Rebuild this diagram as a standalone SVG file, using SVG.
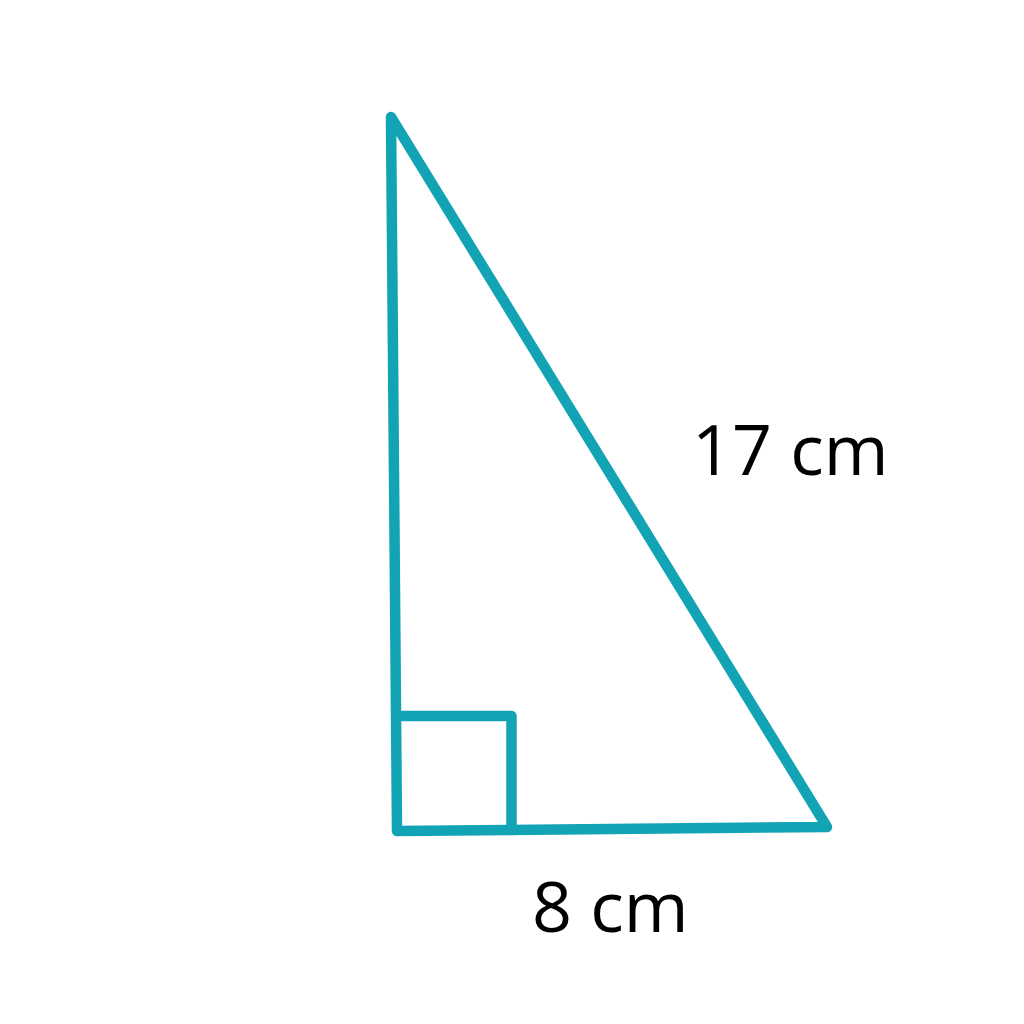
<svg xmlns="http://www.w3.org/2000/svg" width="1024" height="1024" viewBox="0 0 1024 1024">
<style>
.edge{fill:none;stroke:#12A3B4;stroke-width:10.5;stroke-linejoin:round;stroke-linecap:round}
.lbl{font-family:"Open Sans","Noto Sans","Liberation Sans",sans-serif;font-size:70px;fill:#000}
</style>
<rect width="1024" height="1024" fill="#fff"/>
<g id="connectors">
<path class="edge" d="M391,117 L397,831 L827,827 Z"/>
<path class="edge" d="M397,716 L511.5,716 L511.5,830"/>
</g>
<g id="label-hyp"><text class="lbl" x="692" y="475">17 cm</text></g>
<g id="label-base"><text class="lbl" x="532" y="932">8 cm</text></g>
</svg>
